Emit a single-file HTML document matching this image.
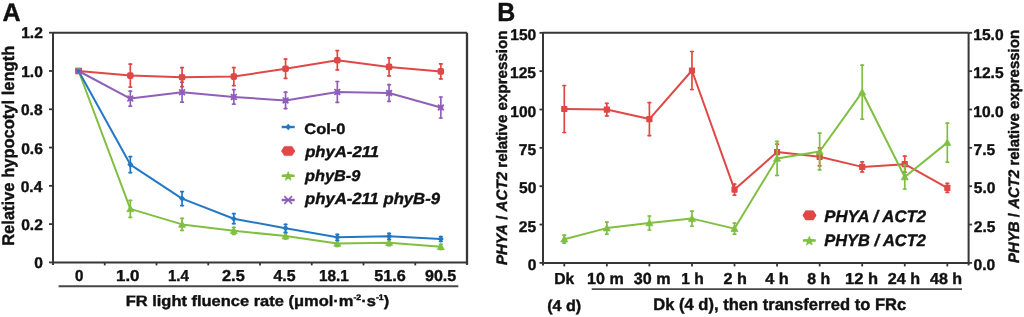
<!DOCTYPE html>
<html><head><meta charset="utf-8"><style>
html,body{margin:0;padding:0;background:#fff;}
svg{display:block;font-family:"Liberation Sans", sans-serif;text-rendering:geometricPrecision;filter:blur(0.5px);}
</style></head><body>
<svg width="1024" height="317" viewBox="0 0 1024 317">
<rect width="1024" height="317" fill="#fff"/>
<line x1="53.00" y1="32.70" x2="467.00" y2="32.70" stroke="#363636" stroke-width="2" stroke-linecap="butt"/>
<line x1="467.00" y1="32.70" x2="467.00" y2="264.90" stroke="#363636" stroke-width="2.3" stroke-linecap="butt"/>
<line x1="53.00" y1="32.70" x2="53.00" y2="264.90" stroke="#363636" stroke-width="2" stroke-linecap="butt"/>
<line x1="52.00" y1="262.40" x2="468.00" y2="262.40" stroke="#363636" stroke-width="2" stroke-linecap="butt"/>
<line x1="49.00" y1="262.40" x2="53.00" y2="262.40" stroke="#363636" stroke-width="1.8" stroke-linecap="butt"/>
<line x1="49.00" y1="224.12" x2="53.00" y2="224.12" stroke="#363636" stroke-width="1.8" stroke-linecap="butt"/>
<line x1="49.00" y1="185.83" x2="53.00" y2="185.83" stroke="#363636" stroke-width="1.8" stroke-linecap="butt"/>
<line x1="49.00" y1="147.55" x2="53.00" y2="147.55" stroke="#363636" stroke-width="1.8" stroke-linecap="butt"/>
<line x1="49.00" y1="109.27" x2="53.00" y2="109.27" stroke="#363636" stroke-width="1.8" stroke-linecap="butt"/>
<line x1="49.00" y1="70.98" x2="53.00" y2="70.98" stroke="#363636" stroke-width="1.8" stroke-linecap="butt"/>
<line x1="49.00" y1="32.70" x2="53.00" y2="32.70" stroke="#363636" stroke-width="1.8" stroke-linecap="butt"/>
<line x1="104.75" y1="262.40" x2="104.75" y2="265.40" stroke="#363636" stroke-width="1.8" stroke-linecap="butt"/>
<line x1="156.50" y1="262.40" x2="156.50" y2="265.40" stroke="#363636" stroke-width="1.8" stroke-linecap="butt"/>
<line x1="208.25" y1="262.40" x2="208.25" y2="265.40" stroke="#363636" stroke-width="1.8" stroke-linecap="butt"/>
<line x1="260.00" y1="262.40" x2="260.00" y2="265.40" stroke="#363636" stroke-width="1.8" stroke-linecap="butt"/>
<line x1="311.75" y1="262.40" x2="311.75" y2="265.40" stroke="#363636" stroke-width="1.8" stroke-linecap="butt"/>
<line x1="363.50" y1="262.40" x2="363.50" y2="265.40" stroke="#363636" stroke-width="1.8" stroke-linecap="butt"/>
<line x1="415.25" y1="262.40" x2="415.25" y2="265.40" stroke="#363636" stroke-width="1.8" stroke-linecap="butt"/>
<line x1="58.60" y1="286.30" x2="458.30" y2="286.30" stroke="#474747" stroke-width="1.9" stroke-linecap="butt"/>
<path d="M78.58,71.00 L130.32,208.90 L182.07,224.40 L233.82,230.80 L285.57,236.00 L337.32,243.50 L389.07,242.70 L440.82,246.80" fill="none" stroke="#80bf42" stroke-width="2.0" stroke-linejoin="round"/>
<g stroke="#80bf42" stroke-width="1.7" stroke-linecap="round"><line x1="130.32" y1="200.40" x2="130.32" y2="217.40"/><line x1="129.02" y1="200.40" x2="131.62" y2="200.40"/><line x1="129.02" y1="217.40" x2="131.62" y2="217.40"/></g>
<g stroke="#80bf42" stroke-width="1.7" stroke-linecap="round"><line x1="182.07" y1="218.40" x2="182.07" y2="230.40"/><line x1="180.77" y1="218.40" x2="183.38" y2="218.40"/><line x1="180.77" y1="230.40" x2="183.38" y2="230.40"/></g>
<g stroke="#80bf42" stroke-width="1.7" stroke-linecap="round"><line x1="233.82" y1="227.30" x2="233.82" y2="234.30"/><line x1="232.52" y1="227.30" x2="235.12" y2="227.30"/><line x1="232.52" y1="234.30" x2="235.12" y2="234.30"/></g>
<g stroke="#80bf42" stroke-width="1.7" stroke-linecap="round"><line x1="285.57" y1="233.00" x2="285.57" y2="239.00"/><line x1="284.27" y1="233.00" x2="286.88" y2="233.00"/><line x1="284.27" y1="239.00" x2="286.88" y2="239.00"/></g>
<g stroke="#80bf42" stroke-width="1.7" stroke-linecap="round"><line x1="337.32" y1="240.50" x2="337.32" y2="246.50"/><line x1="336.02" y1="240.50" x2="338.62" y2="240.50"/><line x1="336.02" y1="246.50" x2="338.62" y2="246.50"/></g>
<g stroke="#80bf42" stroke-width="1.7" stroke-linecap="round"><line x1="389.07" y1="239.70" x2="389.07" y2="245.70"/><line x1="387.77" y1="239.70" x2="390.38" y2="239.70"/><line x1="387.77" y1="245.70" x2="390.38" y2="245.70"/></g>
<g stroke="#80bf42" stroke-width="1.7" stroke-linecap="round"><line x1="440.82" y1="244.30" x2="440.82" y2="249.30"/><line x1="439.52" y1="244.30" x2="442.12" y2="244.30"/><line x1="439.52" y1="249.30" x2="442.12" y2="249.30"/></g>
<path d="M130.32,205.40 L133.82,211.70 L126.82,211.70Z" fill="#80bf42" stroke="#80bf42" stroke-width="0.8" stroke-linejoin="round"/>
<path d="M182.07,220.90 L185.57,227.20 L178.57,227.20Z" fill="#80bf42" stroke="#80bf42" stroke-width="0.8" stroke-linejoin="round"/>
<path d="M233.82,227.30 L237.32,233.60 L230.32,233.60Z" fill="#80bf42" stroke="#80bf42" stroke-width="0.8" stroke-linejoin="round"/>
<path d="M285.57,232.50 L289.07,238.80 L282.07,238.80Z" fill="#80bf42" stroke="#80bf42" stroke-width="0.8" stroke-linejoin="round"/>
<path d="M337.32,240.00 L340.82,246.30 L333.82,246.30Z" fill="#80bf42" stroke="#80bf42" stroke-width="0.8" stroke-linejoin="round"/>
<path d="M389.07,239.20 L392.57,245.50 L385.57,245.50Z" fill="#80bf42" stroke="#80bf42" stroke-width="0.8" stroke-linejoin="round"/>
<path d="M440.82,243.30 L444.32,249.60 L437.32,249.60Z" fill="#80bf42" stroke="#80bf42" stroke-width="0.8" stroke-linejoin="round"/>
<path d="M78.58,71.00 L130.32,164.60 L182.07,198.60 L233.82,218.70 L285.57,228.30 L337.32,237.30 L389.07,236.30 L440.82,239.00" fill="none" stroke="#2378c6" stroke-width="2.0" stroke-linejoin="round"/>
<g stroke="#2378c6" stroke-width="1.7" stroke-linecap="round"><line x1="130.32" y1="156.60" x2="130.32" y2="172.60"/><line x1="129.02" y1="156.60" x2="131.62" y2="156.60"/><line x1="129.02" y1="172.60" x2="131.62" y2="172.60"/></g>
<g stroke="#2378c6" stroke-width="1.7" stroke-linecap="round"><line x1="182.07" y1="191.60" x2="182.07" y2="205.60"/><line x1="180.77" y1="191.60" x2="183.38" y2="191.60"/><line x1="180.77" y1="205.60" x2="183.38" y2="205.60"/></g>
<g stroke="#2378c6" stroke-width="1.7" stroke-linecap="round"><line x1="233.82" y1="213.70" x2="233.82" y2="223.70"/><line x1="232.52" y1="213.70" x2="235.12" y2="213.70"/><line x1="232.52" y1="223.70" x2="235.12" y2="223.70"/></g>
<g stroke="#2378c6" stroke-width="1.7" stroke-linecap="round"><line x1="285.57" y1="224.30" x2="285.57" y2="232.30"/><line x1="284.27" y1="224.30" x2="286.88" y2="224.30"/><line x1="284.27" y1="232.30" x2="286.88" y2="232.30"/></g>
<g stroke="#2378c6" stroke-width="1.7" stroke-linecap="round"><line x1="337.32" y1="234.30" x2="337.32" y2="240.30"/><line x1="336.02" y1="234.30" x2="338.62" y2="234.30"/><line x1="336.02" y1="240.30" x2="338.62" y2="240.30"/></g>
<g stroke="#2378c6" stroke-width="1.7" stroke-linecap="round"><line x1="389.07" y1="233.30" x2="389.07" y2="239.30"/><line x1="387.77" y1="233.30" x2="390.38" y2="233.30"/><line x1="387.77" y1="239.30" x2="390.38" y2="239.30"/></g>
<g stroke="#2378c6" stroke-width="1.7" stroke-linecap="round"><line x1="440.82" y1="236.50" x2="440.82" y2="241.50"/><line x1="439.52" y1="236.50" x2="442.12" y2="236.50"/><line x1="439.52" y1="241.50" x2="442.12" y2="241.50"/></g>
<path d="M127.32,164.60 L130.32,161.30 L133.32,164.60 L130.32,167.90Z" fill="#2378c6"/>
<path d="M179.07,198.60 L182.07,195.30 L185.07,198.60 L182.07,201.90Z" fill="#2378c6"/>
<path d="M230.82,218.70 L233.82,215.40 L236.82,218.70 L233.82,222.00Z" fill="#2378c6"/>
<path d="M282.57,228.30 L285.57,225.00 L288.57,228.30 L285.57,231.60Z" fill="#2378c6"/>
<path d="M334.32,237.30 L337.32,234.00 L340.32,237.30 L337.32,240.60Z" fill="#2378c6"/>
<path d="M386.07,236.30 L389.07,233.00 L392.07,236.30 L389.07,239.60Z" fill="#2378c6"/>
<path d="M437.82,239.00 L440.82,235.70 L443.82,239.00 L440.82,242.30Z" fill="#2378c6"/>
<path d="M78.58,71.00 L130.32,98.60 L182.07,92.20 L233.82,96.90 L285.57,100.40 L337.32,91.90 L389.07,93.00 L440.82,107.50" fill="none" stroke="#8f5fba" stroke-width="2.0" stroke-linejoin="round"/>
<g stroke="#8f5fba" stroke-width="1.7" stroke-linecap="round"><line x1="130.32" y1="91.10" x2="130.32" y2="106.10"/><line x1="129.02" y1="91.10" x2="131.62" y2="91.10"/><line x1="129.02" y1="106.10" x2="131.62" y2="106.10"/></g>
<g stroke="#8f5fba" stroke-width="1.7" stroke-linecap="round"><line x1="182.07" y1="82.20" x2="182.07" y2="102.20"/><line x1="180.77" y1="82.20" x2="183.38" y2="82.20"/><line x1="180.77" y1="102.20" x2="183.38" y2="102.20"/></g>
<g stroke="#8f5fba" stroke-width="1.7" stroke-linecap="round"><line x1="233.82" y1="89.70" x2="233.82" y2="104.10"/><line x1="232.52" y1="89.70" x2="235.12" y2="89.70"/><line x1="232.52" y1="104.10" x2="235.12" y2="104.10"/></g>
<g stroke="#8f5fba" stroke-width="1.7" stroke-linecap="round"><line x1="285.57" y1="92.20" x2="285.57" y2="108.60"/><line x1="284.27" y1="92.20" x2="286.88" y2="92.20"/><line x1="284.27" y1="108.60" x2="286.88" y2="108.60"/></g>
<g stroke="#8f5fba" stroke-width="1.7" stroke-linecap="round"><line x1="337.32" y1="81.50" x2="337.32" y2="102.30"/><line x1="336.02" y1="81.50" x2="338.62" y2="81.50"/><line x1="336.02" y1="102.30" x2="338.62" y2="102.30"/></g>
<g stroke="#8f5fba" stroke-width="1.7" stroke-linecap="round"><line x1="389.07" y1="84.70" x2="389.07" y2="101.30"/><line x1="387.77" y1="84.70" x2="390.38" y2="84.70"/><line x1="387.77" y1="101.30" x2="390.38" y2="101.30"/></g>
<g stroke="#8f5fba" stroke-width="1.7" stroke-linecap="round"><line x1="440.82" y1="97.00" x2="440.82" y2="118.00"/><line x1="439.52" y1="97.00" x2="442.12" y2="97.00"/><line x1="439.52" y1="118.00" x2="442.12" y2="118.00"/></g>
<rect x="127.82" y="96.10" width="5" height="5" rx="1" fill="#8f5fba"/>
<g stroke="#8f5fba" stroke-width="1.7"><line x1="127.42" y1="95.70" x2="133.22" y2="101.50"/><line x1="127.42" y1="101.50" x2="133.22" y2="95.70"/></g>
<rect x="179.57" y="89.70" width="5" height="5" rx="1" fill="#8f5fba"/>
<g stroke="#8f5fba" stroke-width="1.7"><line x1="179.17" y1="89.30" x2="184.97" y2="95.10"/><line x1="179.17" y1="95.10" x2="184.97" y2="89.30"/></g>
<rect x="231.32" y="94.40" width="5" height="5" rx="1" fill="#8f5fba"/>
<g stroke="#8f5fba" stroke-width="1.7"><line x1="230.92" y1="94.00" x2="236.72" y2="99.80"/><line x1="230.92" y1="99.80" x2="236.72" y2="94.00"/></g>
<rect x="283.07" y="97.90" width="5" height="5" rx="1" fill="#8f5fba"/>
<g stroke="#8f5fba" stroke-width="1.7"><line x1="282.68" y1="97.50" x2="288.47" y2="103.30"/><line x1="282.68" y1="103.30" x2="288.47" y2="97.50"/></g>
<rect x="334.82" y="89.40" width="5" height="5" rx="1" fill="#8f5fba"/>
<g stroke="#8f5fba" stroke-width="1.7"><line x1="334.43" y1="89.00" x2="340.22" y2="94.80"/><line x1="334.43" y1="94.80" x2="340.22" y2="89.00"/></g>
<rect x="386.57" y="90.50" width="5" height="5" rx="1" fill="#8f5fba"/>
<g stroke="#8f5fba" stroke-width="1.7"><line x1="386.18" y1="90.10" x2="391.97" y2="95.90"/><line x1="386.18" y1="95.90" x2="391.97" y2="90.10"/></g>
<rect x="438.32" y="105.00" width="5" height="5" rx="1" fill="#8f5fba"/>
<g stroke="#8f5fba" stroke-width="1.7"><line x1="437.93" y1="104.60" x2="443.72" y2="110.40"/><line x1="437.93" y1="110.40" x2="443.72" y2="104.60"/></g>
<path d="M78.58,71.00 L130.32,75.60 L182.07,77.20 L233.82,76.60 L285.57,68.70 L337.32,60.20 L389.07,66.90 L440.82,71.40" fill="none" stroke="#df4846" stroke-width="2.0" stroke-linejoin="round"/>
<g stroke="#df4846" stroke-width="1.7" stroke-linecap="round"><line x1="130.32" y1="64.10" x2="130.32" y2="87.10"/><line x1="129.02" y1="64.10" x2="131.62" y2="64.10"/><line x1="129.02" y1="87.10" x2="131.62" y2="87.10"/></g>
<g stroke="#df4846" stroke-width="1.7" stroke-linecap="round"><line x1="182.07" y1="67.70" x2="182.07" y2="86.70"/><line x1="180.77" y1="67.70" x2="183.38" y2="67.70"/><line x1="180.77" y1="86.70" x2="183.38" y2="86.70"/></g>
<g stroke="#df4846" stroke-width="1.7" stroke-linecap="round"><line x1="233.82" y1="67.60" x2="233.82" y2="85.60"/><line x1="232.52" y1="67.60" x2="235.12" y2="67.60"/><line x1="232.52" y1="85.60" x2="235.12" y2="85.60"/></g>
<g stroke="#df4846" stroke-width="1.7" stroke-linecap="round"><line x1="285.57" y1="59.10" x2="285.57" y2="78.30"/><line x1="284.27" y1="59.10" x2="286.88" y2="59.10"/><line x1="284.27" y1="78.30" x2="286.88" y2="78.30"/></g>
<g stroke="#df4846" stroke-width="1.7" stroke-linecap="round"><line x1="337.32" y1="50.60" x2="337.32" y2="69.80"/><line x1="336.02" y1="50.60" x2="338.62" y2="50.60"/><line x1="336.02" y1="69.80" x2="338.62" y2="69.80"/></g>
<g stroke="#df4846" stroke-width="1.7" stroke-linecap="round"><line x1="389.07" y1="57.90" x2="389.07" y2="75.90"/><line x1="387.77" y1="57.90" x2="390.38" y2="57.90"/><line x1="387.77" y1="75.90" x2="390.38" y2="75.90"/></g>
<g stroke="#df4846" stroke-width="1.7" stroke-linecap="round"><line x1="440.82" y1="63.90" x2="440.82" y2="78.90"/><line x1="439.52" y1="63.90" x2="442.12" y2="63.90"/><line x1="439.52" y1="78.90" x2="442.12" y2="78.90"/></g>
<rect x="127.02" y="72.30" width="6.60" height="6.60" rx="1.8" fill="#df4846"/>
<rect x="178.77" y="73.90" width="6.60" height="6.60" rx="1.8" fill="#df4846"/>
<rect x="230.52" y="73.30" width="6.60" height="6.60" rx="1.8" fill="#df4846"/>
<rect x="282.27" y="65.40" width="6.60" height="6.60" rx="1.8" fill="#df4846"/>
<rect x="334.02" y="56.90" width="6.60" height="6.60" rx="1.8" fill="#df4846"/>
<rect x="385.77" y="63.60" width="6.60" height="6.60" rx="1.8" fill="#df4846"/>
<rect x="437.52" y="68.10" width="6.60" height="6.60" rx="1.8" fill="#df4846"/>
<rect x="75.17" y="67.70" width="6.8" height="6.6" fill="#df4846"/>
<rect x="75.58" y="68.00" width="6" height="6" fill="#8f5fba" opacity="0.8"/>
<path d="M77.08,67.80 L80.08,67.80 L78.58,72.00Z" fill="#80bf42" opacity="0.8"/>
<path d="M76.48,71.00 L78.58,68.69 L80.67,71.00 L78.58,73.31Z" fill="#2378c6"/>
<line x1="281.70" y1="127.00" x2="294.70" y2="127.00" stroke="#2378c6" stroke-width="2.4" stroke-linecap="butt"/>
<path d="M285.35,127.00 L288.20,123.86 L291.05,127.00 L288.20,130.13Z" fill="#2378c6"/>
<line x1="281.70" y1="151.00" x2="294.70" y2="151.00" stroke="#df4846" stroke-width="2.4" stroke-linecap="butt"/>
<path d="M281.60,151.00 L284.30,146.40 L292.10,146.40 L294.80,151.00 L292.10,155.60 L284.30,155.60Z" fill="#df4846" stroke="#df4846" stroke-width="0.6" stroke-linejoin="round"/>
<line x1="281.70" y1="175.80" x2="294.70" y2="175.80" stroke="#80bf42" stroke-width="2.4" stroke-linecap="butt"/>
<polygon points="288.20,171.50 289.49,174.62 292.86,174.89 290.29,177.08 291.08,180.36 288.20,178.60 285.32,180.36 286.11,177.08 283.54,174.89 286.91,174.62" fill="#80bf42" stroke="#80bf42" stroke-width="0.6" stroke-linejoin="round"/>
<line x1="281.70" y1="200.00" x2="294.70" y2="200.00" stroke="#8f5fba" stroke-width="2.4" stroke-linecap="butt"/>
<g stroke="#8f5fba" stroke-width="1.7"><line x1="284.29" y1="196.09" x2="292.11" y2="203.91"/><line x1="284.29" y1="203.91" x2="292.11" y2="196.09"/><line x1="283.51" y1="200.00" x2="292.89" y2="200.00"/></g>
<line x1="543.00" y1="32.80" x2="968.60" y2="32.80" stroke="#363636" stroke-width="2" stroke-linecap="butt"/>
<line x1="543.00" y1="32.80" x2="543.00" y2="265.40" stroke="#363636" stroke-width="2" stroke-linecap="butt"/>
<line x1="968.60" y1="32.80" x2="968.60" y2="265.40" stroke="#363636" stroke-width="2" stroke-linecap="butt"/>
<line x1="542.00" y1="262.90" x2="969.60" y2="262.90" stroke="#363636" stroke-width="2" stroke-linecap="butt"/>
<line x1="539.50" y1="262.90" x2="543.00" y2="262.90" stroke="#363636" stroke-width="1.8" stroke-linecap="butt"/>
<line x1="968.60" y1="262.90" x2="972.10" y2="262.90" stroke="#363636" stroke-width="1.8" stroke-linecap="butt"/>
<line x1="539.50" y1="224.55" x2="543.00" y2="224.55" stroke="#363636" stroke-width="1.8" stroke-linecap="butt"/>
<line x1="968.60" y1="224.55" x2="972.10" y2="224.55" stroke="#363636" stroke-width="1.8" stroke-linecap="butt"/>
<line x1="539.50" y1="186.20" x2="543.00" y2="186.20" stroke="#363636" stroke-width="1.8" stroke-linecap="butt"/>
<line x1="968.60" y1="186.20" x2="972.10" y2="186.20" stroke="#363636" stroke-width="1.8" stroke-linecap="butt"/>
<line x1="539.50" y1="147.85" x2="543.00" y2="147.85" stroke="#363636" stroke-width="1.8" stroke-linecap="butt"/>
<line x1="968.60" y1="147.85" x2="972.10" y2="147.85" stroke="#363636" stroke-width="1.8" stroke-linecap="butt"/>
<line x1="539.50" y1="109.50" x2="543.00" y2="109.50" stroke="#363636" stroke-width="1.8" stroke-linecap="butt"/>
<line x1="968.60" y1="109.50" x2="972.10" y2="109.50" stroke="#363636" stroke-width="1.8" stroke-linecap="butt"/>
<line x1="539.50" y1="71.15" x2="543.00" y2="71.15" stroke="#363636" stroke-width="1.8" stroke-linecap="butt"/>
<line x1="968.60" y1="71.15" x2="972.10" y2="71.15" stroke="#363636" stroke-width="1.8" stroke-linecap="butt"/>
<line x1="539.50" y1="32.80" x2="543.00" y2="32.80" stroke="#363636" stroke-width="1.8" stroke-linecap="butt"/>
<line x1="968.60" y1="32.80" x2="972.10" y2="32.80" stroke="#363636" stroke-width="1.8" stroke-linecap="butt"/>
<line x1="564.28" y1="262.90" x2="564.28" y2="266.40" stroke="#363636" stroke-width="1.8" stroke-linecap="butt"/>
<line x1="606.84" y1="262.90" x2="606.84" y2="266.40" stroke="#363636" stroke-width="1.8" stroke-linecap="butt"/>
<line x1="649.40" y1="262.90" x2="649.40" y2="266.40" stroke="#363636" stroke-width="1.8" stroke-linecap="butt"/>
<line x1="691.96" y1="262.90" x2="691.96" y2="266.40" stroke="#363636" stroke-width="1.8" stroke-linecap="butt"/>
<line x1="734.52" y1="262.90" x2="734.52" y2="266.40" stroke="#363636" stroke-width="1.8" stroke-linecap="butt"/>
<line x1="777.08" y1="262.90" x2="777.08" y2="266.40" stroke="#363636" stroke-width="1.8" stroke-linecap="butt"/>
<line x1="819.64" y1="262.90" x2="819.64" y2="266.40" stroke="#363636" stroke-width="1.8" stroke-linecap="butt"/>
<line x1="862.20" y1="262.90" x2="862.20" y2="266.40" stroke="#363636" stroke-width="1.8" stroke-linecap="butt"/>
<line x1="904.76" y1="262.90" x2="904.76" y2="266.40" stroke="#363636" stroke-width="1.8" stroke-linecap="butt"/>
<line x1="947.32" y1="262.90" x2="947.32" y2="266.40" stroke="#363636" stroke-width="1.8" stroke-linecap="butt"/>
<line x1="591.70" y1="289.10" x2="962.00" y2="289.10" stroke="#474747" stroke-width="1.9" stroke-linecap="butt"/>
<path d="M564.28,109.00 L606.84,109.60 L649.40,119.10 L691.96,70.50 L734.52,189.60 L777.08,152.10 L819.64,156.80 L862.20,166.90 L904.76,164.20 L947.32,187.80" fill="none" stroke="#df4846" stroke-width="2.0" stroke-linejoin="round"/>
<g stroke="#df4846" stroke-width="1.7" stroke-linecap="round"><line x1="564.28" y1="85.50" x2="564.28" y2="132.50"/><line x1="562.98" y1="85.50" x2="565.58" y2="85.50"/><line x1="562.98" y1="132.50" x2="565.58" y2="132.50"/></g>
<g stroke="#df4846" stroke-width="1.7" stroke-linecap="round"><line x1="606.84" y1="103.30" x2="606.84" y2="115.90"/><line x1="605.54" y1="103.30" x2="608.14" y2="103.30"/><line x1="605.54" y1="115.90" x2="608.14" y2="115.90"/></g>
<g stroke="#df4846" stroke-width="1.7" stroke-linecap="round"><line x1="649.40" y1="102.60" x2="649.40" y2="135.60"/><line x1="648.10" y1="102.60" x2="650.70" y2="102.60"/><line x1="648.10" y1="135.60" x2="650.70" y2="135.60"/></g>
<g stroke="#df4846" stroke-width="1.7" stroke-linecap="round"><line x1="691.96" y1="51.50" x2="691.96" y2="89.50"/><line x1="690.66" y1="51.50" x2="693.26" y2="51.50"/><line x1="690.66" y1="89.50" x2="693.26" y2="89.50"/></g>
<g stroke="#df4846" stroke-width="1.7" stroke-linecap="round"><line x1="734.52" y1="184.10" x2="734.52" y2="195.10"/><line x1="733.22" y1="184.10" x2="735.82" y2="184.10"/><line x1="733.22" y1="195.10" x2="735.82" y2="195.10"/></g>
<g stroke="#df4846" stroke-width="1.7" stroke-linecap="round"><line x1="777.08" y1="144.10" x2="777.08" y2="160.10"/><line x1="775.78" y1="144.10" x2="778.38" y2="144.10"/><line x1="775.78" y1="160.10" x2="778.38" y2="160.10"/></g>
<g stroke="#df4846" stroke-width="1.7" stroke-linecap="round"><line x1="819.64" y1="147.80" x2="819.64" y2="165.80"/><line x1="818.34" y1="147.80" x2="820.94" y2="147.80"/><line x1="818.34" y1="165.80" x2="820.94" y2="165.80"/></g>
<g stroke="#df4846" stroke-width="1.7" stroke-linecap="round"><line x1="862.20" y1="161.90" x2="862.20" y2="171.90"/><line x1="860.90" y1="161.90" x2="863.50" y2="161.90"/><line x1="860.90" y1="171.90" x2="863.50" y2="171.90"/></g>
<g stroke="#df4846" stroke-width="1.7" stroke-linecap="round"><line x1="904.76" y1="156.20" x2="904.76" y2="172.20"/><line x1="903.46" y1="156.20" x2="906.06" y2="156.20"/><line x1="903.46" y1="172.20" x2="906.06" y2="172.20"/></g>
<g stroke="#df4846" stroke-width="1.7" stroke-linecap="round"><line x1="947.32" y1="183.30" x2="947.32" y2="192.30"/><line x1="946.02" y1="183.30" x2="948.62" y2="183.30"/><line x1="946.02" y1="192.30" x2="948.62" y2="192.30"/></g>
<rect x="561.18" y="105.90" width="6.20" height="6.20" rx="0.6" fill="#df4846"/>
<rect x="603.74" y="106.50" width="6.20" height="6.20" rx="0.6" fill="#df4846"/>
<rect x="646.30" y="116.00" width="6.20" height="6.20" rx="0.6" fill="#df4846"/>
<rect x="688.86" y="67.40" width="6.20" height="6.20" rx="0.6" fill="#df4846"/>
<rect x="731.42" y="186.50" width="6.20" height="6.20" rx="0.6" fill="#df4846"/>
<rect x="773.98" y="149.00" width="6.20" height="6.20" rx="0.6" fill="#df4846"/>
<rect x="816.54" y="153.70" width="6.20" height="6.20" rx="0.6" fill="#df4846"/>
<rect x="859.10" y="163.80" width="6.20" height="6.20" rx="0.6" fill="#df4846"/>
<rect x="901.66" y="161.10" width="6.20" height="6.20" rx="0.6" fill="#df4846"/>
<rect x="944.22" y="184.70" width="6.20" height="6.20" rx="0.6" fill="#df4846"/>
<path d="M564.28,239.20 L606.84,228.10 L649.40,223.00 L691.96,218.60 L734.52,228.60 L777.08,158.40 L819.64,151.50 L862.20,92.20 L904.76,177.00 L947.32,142.60" fill="none" stroke="#80bf42" stroke-width="2.0" stroke-linejoin="round"/>
<g stroke="#80bf42" stroke-width="1.7" stroke-linecap="round"><line x1="564.28" y1="235.20" x2="564.28" y2="243.20"/><line x1="562.98" y1="235.20" x2="565.58" y2="235.20"/><line x1="562.98" y1="243.20" x2="565.58" y2="243.20"/></g>
<g stroke="#80bf42" stroke-width="1.7" stroke-linecap="round"><line x1="606.84" y1="222.10" x2="606.84" y2="234.10"/><line x1="605.54" y1="222.10" x2="608.14" y2="222.10"/><line x1="605.54" y1="234.10" x2="608.14" y2="234.10"/></g>
<g stroke="#80bf42" stroke-width="1.7" stroke-linecap="round"><line x1="649.40" y1="216.00" x2="649.40" y2="230.00"/><line x1="648.10" y1="216.00" x2="650.70" y2="216.00"/><line x1="648.10" y1="230.00" x2="650.70" y2="230.00"/></g>
<g stroke="#80bf42" stroke-width="1.7" stroke-linecap="round"><line x1="691.96" y1="211.10" x2="691.96" y2="226.10"/><line x1="690.66" y1="211.10" x2="693.26" y2="211.10"/><line x1="690.66" y1="226.10" x2="693.26" y2="226.10"/></g>
<g stroke="#80bf42" stroke-width="1.7" stroke-linecap="round"><line x1="734.52" y1="223.10" x2="734.52" y2="234.10"/><line x1="733.22" y1="223.10" x2="735.82" y2="223.10"/><line x1="733.22" y1="234.10" x2="735.82" y2="234.10"/></g>
<g stroke="#80bf42" stroke-width="1.7" stroke-linecap="round"><line x1="777.08" y1="141.40" x2="777.08" y2="175.40"/><line x1="775.78" y1="141.40" x2="778.38" y2="141.40"/><line x1="775.78" y1="175.40" x2="778.38" y2="175.40"/></g>
<g stroke="#80bf42" stroke-width="1.7" stroke-linecap="round"><line x1="819.64" y1="133.20" x2="819.64" y2="169.80"/><line x1="818.34" y1="133.20" x2="820.94" y2="133.20"/><line x1="818.34" y1="169.80" x2="820.94" y2="169.80"/></g>
<g stroke="#80bf42" stroke-width="1.7" stroke-linecap="round"><line x1="862.20" y1="65.20" x2="862.20" y2="119.20"/><line x1="860.90" y1="65.20" x2="863.50" y2="65.20"/><line x1="860.90" y1="119.20" x2="863.50" y2="119.20"/></g>
<g stroke="#80bf42" stroke-width="1.7" stroke-linecap="round"><line x1="904.76" y1="165.00" x2="904.76" y2="189.00"/><line x1="903.46" y1="165.00" x2="906.06" y2="165.00"/><line x1="903.46" y1="189.00" x2="906.06" y2="189.00"/></g>
<g stroke="#80bf42" stroke-width="1.7" stroke-linecap="round"><line x1="947.32" y1="123.10" x2="947.32" y2="162.10"/><line x1="946.02" y1="123.10" x2="948.62" y2="123.10"/><line x1="946.02" y1="162.10" x2="948.62" y2="162.10"/></g>
<path d="M564.28,235.70 L567.78,242.00 L560.78,242.00Z" fill="#80bf42" stroke="#80bf42" stroke-width="0.8" stroke-linejoin="round"/>
<path d="M606.84,224.60 L610.34,230.90 L603.34,230.90Z" fill="#80bf42" stroke="#80bf42" stroke-width="0.8" stroke-linejoin="round"/>
<path d="M649.40,219.50 L652.90,225.80 L645.90,225.80Z" fill="#80bf42" stroke="#80bf42" stroke-width="0.8" stroke-linejoin="round"/>
<path d="M691.96,215.10 L695.46,221.40 L688.46,221.40Z" fill="#80bf42" stroke="#80bf42" stroke-width="0.8" stroke-linejoin="round"/>
<path d="M734.52,225.10 L738.02,231.40 L731.02,231.40Z" fill="#80bf42" stroke="#80bf42" stroke-width="0.8" stroke-linejoin="round"/>
<path d="M777.08,154.90 L780.58,161.20 L773.58,161.20Z" fill="#80bf42" stroke="#80bf42" stroke-width="0.8" stroke-linejoin="round"/>
<path d="M819.64,148.00 L823.14,154.30 L816.14,154.30Z" fill="#80bf42" stroke="#80bf42" stroke-width="0.8" stroke-linejoin="round"/>
<path d="M862.20,88.70 L865.70,95.00 L858.70,95.00Z" fill="#80bf42" stroke="#80bf42" stroke-width="0.8" stroke-linejoin="round"/>
<path d="M904.76,173.50 L908.26,179.80 L901.26,179.80Z" fill="#80bf42" stroke="#80bf42" stroke-width="0.8" stroke-linejoin="round"/>
<path d="M947.32,139.10 L950.82,145.40 L943.82,145.40Z" fill="#80bf42" stroke="#80bf42" stroke-width="0.8" stroke-linejoin="round"/>
<line x1="803.00" y1="215.30" x2="816.00" y2="215.30" stroke="#df4846" stroke-width="2.4" stroke-linecap="butt"/>
<path d="M802.90,215.30 L805.60,210.70 L813.40,210.70 L816.10,215.30 L813.40,219.90 L805.60,219.90Z" fill="#df4846" stroke="#df4846" stroke-width="0.6" stroke-linejoin="round"/>
<line x1="802.80" y1="240.50" x2="815.80" y2="240.50" stroke="#80bf42" stroke-width="2.4" stroke-linecap="butt"/>
<polygon points="809.30,236.20 810.59,239.32 813.96,239.59 811.39,241.78 812.18,245.06 809.30,243.30 806.42,245.06 807.21,241.78 804.64,239.59 808.01,239.32" fill="#80bf42" stroke="#80bf42" stroke-width="0.6" stroke-linejoin="round"/>
<g stroke="#111" stroke-width="0.4" stroke-linejoin="round"><text transform="translate(2.61,21.10) scale(0.9771,1)" text-anchor="start" font-size="25.64" font-weight="bold" font-style="normal" fill="#111">A</text>
<text transform="translate(42.80,268.38) scale(1.0034,1)" text-anchor="end" font-size="15.54" font-weight="bold" font-style="normal" fill="#111">0</text>
<text transform="translate(42.80,230.09) scale(1.0034,1)" text-anchor="end" font-size="15.54" font-weight="bold" font-style="normal" fill="#111">0.2</text>
<text transform="translate(42.30,191.81) scale(1.0034,1)" text-anchor="end" font-size="15.54" font-weight="bold" font-style="normal" fill="#111">0.4</text>
<text transform="translate(42.80,153.53) scale(1.0034,1)" text-anchor="end" font-size="15.54" font-weight="bold" font-style="normal" fill="#111">0.6</text>
<text transform="translate(42.55,115.24) scale(1.0034,1)" text-anchor="end" font-size="15.54" font-weight="bold" font-style="normal" fill="#111">0.8</text>
<text transform="translate(42.80,76.96) scale(1.0034,1)" text-anchor="end" font-size="15.54" font-weight="bold" font-style="normal" fill="#111">1.0</text>
<text transform="translate(42.80,38.18) scale(1.0034,1)" text-anchor="end" font-size="15.54" font-weight="bold" font-style="normal" fill="#111">1.2</text>
<text transform="translate(13.90,245.81) scale(1.0400,1) rotate(-90) scale(1.0146,1)" font-size="16.3" font-weight="bold" font-style="normal" fill="#111">Relative hypocotyl length</text>
<text transform="translate(74.92,281.30) scale(0.9548,1)" text-anchor="start" font-size="15.89" font-weight="bold" font-style="normal" fill="#111">0</text>
<text transform="translate(116.00,281.30) scale(1.0651,1)" text-anchor="start" font-size="15.89" font-weight="bold" font-style="normal" fill="#111">1.0</text>
<text transform="translate(167.88,281.30) scale(0.9535,1)" text-anchor="start" font-size="15.89" font-weight="bold" font-style="normal" fill="#111">1.4</text>
<text transform="translate(222.04,281.30) scale(1.0279,1)" text-anchor="start" font-size="15.89" font-weight="bold" font-style="normal" fill="#111">2.5</text>
<text transform="translate(273.50,281.30) scale(1.0023,1)" text-anchor="start" font-size="15.89" font-weight="bold" font-style="normal" fill="#111">4.5</text>
<text transform="translate(319.08,281.30) scale(0.9633,1)" text-anchor="start" font-size="15.89" font-weight="bold" font-style="normal" fill="#111">18.1</text>
<text transform="translate(374.25,281.30) scale(1.0182,1)" text-anchor="start" font-size="15.89" font-weight="bold" font-style="normal" fill="#111">51.6</text>
<text transform="translate(424.95,281.30) scale(1.0131,1)" text-anchor="start" font-size="15.89" font-weight="bold" font-style="normal" fill="#111">90.5</text>
<text transform="translate(125.68,306.20) scale(1.0951,1)" text-anchor="start" font-size="15.04" font-weight="bold" font-style="normal" fill="#111">FR light fluence rate (μmol·m<tspan font-size="8" dy="-6">-2</tspan><tspan dy="6">·s</tspan><tspan font-size="8" dy="-6">-1</tspan><tspan dy="6">)</tspan></text>
<text transform="translate(304.35,133.50) scale(1.0959,1)" text-anchor="start" font-size="15.0" font-weight="bold" font-style="normal" fill="#111">Col-0</text>
<text transform="translate(305.14,157.20) scale(1.0705,1)" text-anchor="start" font-size="15.6" font-weight="bold" font-style="italic" fill="#111">phyA-211</text>
<text transform="translate(305.12,180.70) scale(1.0449,1)" text-anchor="start" font-size="15.6" font-weight="bold" font-style="italic" fill="#111">phyB-9</text>
<text transform="translate(305.02,204.00) scale(1.0411,1)" text-anchor="start" font-size="16.02" font-weight="bold" font-style="italic" fill="#111">phyA-211 phyB-9</text>
<text transform="translate(497.27,20.80) scale(0.9538,1)" text-anchor="start" font-size="26.14" font-weight="bold" font-style="normal" fill="#111">B</text>
<text transform="translate(536.30,270.02) scale(1.0034,1)" text-anchor="end" font-size="15.54" font-weight="bold" font-style="normal" fill="#111">0</text>
<text transform="translate(973.50,270.02) scale(1.0034,1)" text-anchor="start" font-size="15.54" font-weight="bold" font-style="normal" fill="#111">0.0</text>
<text transform="translate(536.05,231.67) scale(1.0034,1)" text-anchor="end" font-size="15.54" font-weight="bold" font-style="normal" fill="#111">25</text>
<text transform="translate(973.75,231.67) scale(1.0034,1)" text-anchor="start" font-size="15.54" font-weight="bold" font-style="normal" fill="#111">2.5</text>
<text transform="translate(536.30,193.32) scale(1.0034,1)" text-anchor="end" font-size="15.54" font-weight="bold" font-style="normal" fill="#111">50</text>
<text transform="translate(973.75,193.32) scale(1.0034,1)" text-anchor="start" font-size="15.54" font-weight="bold" font-style="normal" fill="#111">5.0</text>
<text transform="translate(536.05,154.85) scale(1.0034,1)" text-anchor="end" font-size="15.54" font-weight="bold" font-style="normal" fill="#111">75</text>
<text transform="translate(973.50,154.85) scale(1.0034,1)" text-anchor="start" font-size="15.54" font-weight="bold" font-style="normal" fill="#111">7.5</text>
<text transform="translate(536.30,116.62) scale(1.0034,1)" text-anchor="end" font-size="15.54" font-weight="bold" font-style="normal" fill="#111">100</text>
<text transform="translate(973.25,116.62) scale(1.0034,1)" text-anchor="start" font-size="15.54" font-weight="bold" font-style="normal" fill="#111">10.0</text>
<text transform="translate(536.05,78.28) scale(1.0034,1)" text-anchor="end" font-size="15.54" font-weight="bold" font-style="normal" fill="#111">125</text>
<text transform="translate(973.25,78.28) scale(1.0034,1)" text-anchor="start" font-size="15.54" font-weight="bold" font-style="normal" fill="#111">12.5</text>
<text transform="translate(536.30,39.92) scale(1.0034,1)" text-anchor="end" font-size="15.54" font-weight="bold" font-style="normal" fill="#111">150</text>
<text transform="translate(973.25,39.92) scale(1.0034,1)" text-anchor="start" font-size="15.54" font-weight="bold" font-style="normal" fill="#111">15.0</text>
<text transform="translate(507.20,265.00) scale(1.0000,1) rotate(-90) scale(0.9970,1)" font-size="15.2" font-weight="bold" font-style="normal" fill="#111"><tspan font-style="italic">PHYA</tspan> / <tspan font-style="italic">ACT2</tspan> relative expression</text>
<text transform="translate(1018.80,262.90) scale(1.0000,1) rotate(-90) scale(0.9854,1)" font-size="15.2" font-weight="bold" font-style="normal" fill="#111"><tspan font-style="italic">PHYB</tspan> / <tspan font-style="italic">ACT2</tspan> relative expression</text>
<text transform="translate(554.26,283.50) scale(0.9873,1)" text-anchor="start" font-size="15.86" font-weight="bold" font-style="normal" fill="#111">Dk</text>
<text transform="translate(587.05,283.50) scale(1.0029,1)" text-anchor="start" font-size="16.03" font-weight="bold" font-style="normal" fill="#111">10 m</text>
<text transform="translate(633.85,283.50) scale(1.0056,1)" text-anchor="start" font-size="16.03" font-weight="bold" font-style="normal" fill="#111">30 m</text>
<text transform="translate(681.16,283.50) scale(0.9814,1)" text-anchor="start" font-size="15.86" font-weight="bold" font-style="normal" fill="#111">1 h</text>
<text transform="translate(723.45,283.50) scale(1.0182,1)" text-anchor="start" font-size="15.86" font-weight="bold" font-style="normal" fill="#111">2 h</text>
<text transform="translate(765.20,283.50) scale(1.0247,1)" text-anchor="start" font-size="15.86" font-weight="bold" font-style="normal" fill="#111">4 h</text>
<text transform="translate(807.25,283.50) scale(1.0000,1)" text-anchor="start" font-size="15.86" font-weight="bold" font-style="normal" fill="#111">8 h</text>
<text transform="translate(845.02,283.50) scale(1.0380,1)" text-anchor="start" font-size="15.86" font-weight="bold" font-style="normal" fill="#111">12 h</text>
<text transform="translate(887.85,283.50) scale(1.0179,1)" text-anchor="start" font-size="15.86" font-weight="bold" font-style="normal" fill="#111">24 h</text>
<text transform="translate(930.00,283.50) scale(1.0129,1)" text-anchor="start" font-size="15.86" font-weight="bold" font-style="normal" fill="#111">48 h</text>
<text transform="translate(547.19,310.70) scale(1.0250,1)" text-anchor="start" font-size="15.72" font-weight="bold" font-style="normal" fill="#111">(4 d)</text>
<text transform="translate(653.20,310.30) scale(0.9962,1)" text-anchor="start" font-size="16.64" font-weight="bold" font-style="normal" fill="#111">Dk (4 d), then transferred to FRc</text>
<text transform="translate(824.30,222.00) scale(1.0035,1)" text-anchor="start" font-size="16.7" font-weight="bold" font-style="italic" fill="#111">PHYA / ACT2</text>
<text transform="translate(824.30,245.70) scale(0.9840,1)" text-anchor="start" font-size="16.7" font-weight="bold" font-style="italic" fill="#111">PHYB / ACT2</text></g>
</svg>
</body></html>
